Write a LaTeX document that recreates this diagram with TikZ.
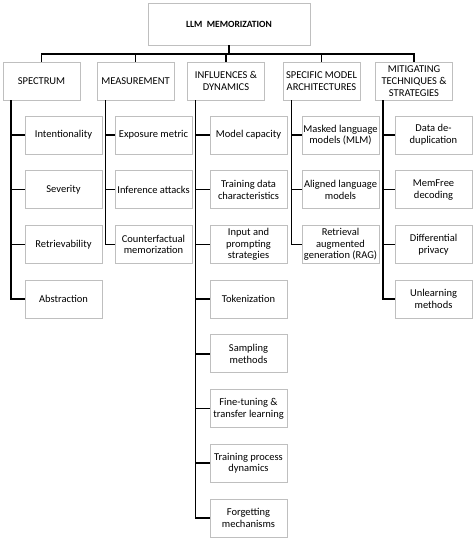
\documentclass[tikz,border=0pt]{standalone}
\usepackage{fontspec}
\setmainfont{Carlito}
\usetikzlibrary{positioning}

\begin{document}
\begin{tikzpicture}[
  x=1pt, y=-1pt,
  node distance=16pt,
  box/.style={rectangle, draw=gray!50, fill=white, line width=0.7pt,
              minimum width=77pt, minimum height=38pt, inner sep=1pt,
              align=center, font=\fontsize{10.5}{11.8}\selectfont},
  rootbox/.style={box, minimum width=162pt, minimum height=42pt,
                  font=\fontsize{9.5}{11}\selectfont\bfseries},
  link/.style={draw, line width=1.5pt}
]
\useasboundingbox (0,0) rectangle (474,541);

% root and main branches
\node[rootbox] (root) at (229,24) {LLM\ \ MEMORIZATION};
\node[box] (spec) at (41.5,81) {SPECTRUM};
\node[box] (meas) at (135.5,81) {MEASUREMENT};
\node[box] (infl) at (226,81) {INFLUENCES \&\\DYNAMICS};
\node[box] (arch) at (321.5,81) {SPECIFIC MODEL\\ARCHITECTURES};
\node[box] (miti) at (414,81) {MITIGATING\\TECHNIQUES \&\\STRATEGIES};

% spectrum
\node[box] (spec1) at (63.5,135) {Intentionality};
\node[box, below=of spec1] (spec2) {Severity};
\node[box, below=of spec2] (spec3) {Retrievability};
\node[box, below=of spec3] (spec4) {Abstraction};

% measurement
\node[box] (meas1) at (153.5,135) {Exposure metric};
\node[box, below=of meas1] (meas2) {Inference attacks};
\node[box, below=of meas2] (meas3) {Counterfactual\\memorization};

% influences
\node[box] (infl1) at (248.5,135) {Model capacity};
\node[box, below=of infl1] (infl2) {Training data\\characteristics};
\node[box, below=of infl2] (infl3) {Input and\\prompting\\strategies};
\node[box, below=of infl3] (infl4) {Tokenization};
\node[box, below=of infl4] (infl5) {Sampling\\methods};
\node[box, below=of infl5] (infl6) {Fine-tuning \&\\transfer learning};
\node[box, below=of infl6] (infl7) {Training process\\dynamics};
\node[box, below=of infl7] (infl8) {Forgetting\\mechanisms};

% architectures
\node[box] (arch1) at (340.5,135) {Masked language\\models (MLM)};
\node[box, below=of arch1] (arch2) {Aligned language\\models};
\node[box, below=of arch2] (arch3) {Retrieval\\augmented\\generation (RAG)};

% mitigating
\node[box] (miti1) at (433.5,135) {Data de-\\duplication};
\node[box, below=of miti1] (miti2) {MemFree\\decoding};
\node[box, below=of miti2] (miti3) {Differential\\privacy};
\node[box, below=of miti3] (miti4) {Unlearning\\methods};

% top bus
\coordinate (bus) at (229,54);
\draw[link] (root.south) -- (bus);
\draw[link] (spec.north) |- (bus) -| (miti.north);
\draw[link] (meas.north) -- (meas.north |- bus);
\draw[link] (infl.north) -- (infl.north |- bus);
\draw[link] (arch.north) -- (arch.north |- bus);

% spines
\coordinate (specspine) at ([xshift=8.5pt]spec.south west);
\coordinate (measspine) at ([xshift=9pt]meas.south west);
\coordinate (inflspine) at ([xshift=8.5pt]infl.south west);
\coordinate (archspine) at ([xshift=9pt]arch.south west);
\coordinate (mitispine) at ([xshift=8pt]miti.south west);

\draw[link] (specspine) |- (spec4.west);
\draw[link] (specspine |- spec1.west) -- (spec1.west);
\draw[link] (specspine |- spec2.west) -- (spec2.west);
\draw[link] (specspine |- spec3.west) -- (spec3.west);

\draw[link] (measspine) |- (meas3.west);
\draw[link] (measspine |- meas1.west) -- (meas1.west);
\draw[link] (measspine |- meas2.west) -- (meas2.west);

\draw[link] (inflspine) |- (infl8.west);
\draw[link] (inflspine |- infl1.west) -- (infl1.west);
\draw[link] (inflspine |- infl2.west) -- (infl2.west);
\draw[link] (inflspine |- infl3.west) -- (infl3.west);
\draw[link] (inflspine |- infl4.west) -- (infl4.west);
\draw[link] (inflspine |- infl5.west) -- (infl5.west);
\draw[link] (inflspine |- infl6.west) -- (infl6.west);
\draw[link] (inflspine |- infl7.west) -- (infl7.west);

\draw[link] (archspine) |- (arch3.west);
\draw[link] (archspine |- arch1.west) -- (arch1.west);
\draw[link] (archspine |- arch2.west) -- (arch2.west);

\draw[link] (mitispine) |- (miti4.west);
\draw[link] (mitispine |- miti1.west) -- (miti1.west);
\draw[link] (mitispine |- miti2.west) -- (miti2.west);
\draw[link] (mitispine |- miti3.west) -- (miti3.west);
\end{tikzpicture}
\end{document}
